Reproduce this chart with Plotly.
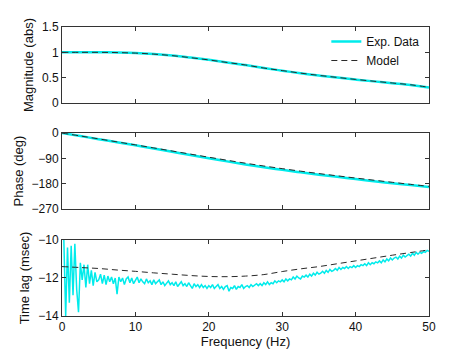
import numpy as np
import plotly.graph_objects as go

# ---------------- data ----------------
freq_coarse = [0, 2.5, 5, 7.5, 10, 12.5, 15, 17.5, 20, 22.5, 25, 27.5, 30,
               32.5, 35, 37.5, 40, 42.5, 45, 47.5, 50]

mag_model = [1.0, 1.0, 1.0, 0.995, 0.985, 0.965, 0.935, 0.895, 0.85, 0.80, 0.75,
             0.69, 0.64, 0.59, 0.545, 0.505, 0.465, 0.43, 0.395, 0.36, 0.31]
mag_exp = [1.0, 1.003, 1.001, 0.997, 0.988, 0.968, 0.938, 0.897, 0.852, 0.80, 0.748,
           0.692, 0.638, 0.588, 0.543, 0.503, 0.462, 0.427, 0.392, 0.357, 0.307]

phase_model = [0, -10.3, -20.7, -31.3, -41.9, -52.8, -63.7, -74.8, -85.8, -96.6, -107.1,
               -117.0, -126.4, -135.3, -143.9, -151.9, -159.8, -167.5, -174.9, -182.3, -189.4]
phase_exp = [0, -10.7, -21.6, -32.5, -43.6, -55.0, -66.3, -77.8, -89.4, -100.6, -111.4,
             -121.2, -130.6, -139.6, -147.8, -155.5, -163.6, -171.2, -178.2, -184.8, -191.5]

lag_model = [-11.40, -11.45, -11.5, -11.58, -11.65, -11.73, -11.8, -11.87, -11.92, -11.93,
             -11.9, -11.82, -11.66, -11.52, -11.4, -11.25, -11.1, -10.95, -10.8, -10.66, -10.52]

lag_exp = [
    -10.0, -14.0, -10.4, -13.3, -10.3, -12.9, -10.2, -12.6, -13.8, -11.2, -12.1, -11.3,
    -12.5, -11.3, -12.3, -11.6, -12.4, -11.7, -12.2, -12.1,
    -11.8, -12.3, -11.85, -12.35, -11.9, -12.2, -11.95, -12.3,
    -12.0, -12.85, -11.95, -12.2, -12.0, -12.35, -12.05, -11.95,
    -12.25, -12.0, -12.3, -12.1, -11.95, -12.25, -12.05, -12.2,
    -12.3, -12.05, -12.25, -12.15, -12.35, -12.1, -12.3, -12.2,
    -12.1, -12.35, -12.2, -12.4, -12.25, -12.15, -12.35, -12.25,
    -12.4, -12.2, -12.45, -12.3, -12.2, -12.4, -12.3, -12.45,
    -12.25, -12.4, -12.55, -12.3, -12.45, -12.35, -12.5, -12.35,
    -12.5, -12.4, -12.55, -12.4, -12.5, -12.35, -12.55, -12.45,
    -12.35, -12.55, -12.45, -12.6, -12.45, -12.4, -12.7, -12.5,
    -12.55, -12.4, -12.6, -12.45, -12.5, -12.35, -12.55, -12.45,
    -12.4, -12.5, -12.35, -12.45, -12.35, -12.3, -12.4, -12.3,
    -12.4, -12.25, -12.35, -12.2, -12.35, -12.25, -12.3, -12.15,
    -12.25, -12.15, -12.2, -12.1, -12.2, -12.05, -12.15, -12.05,
    -12.1, -11.95, -12.05, -11.9, -12.0, -12.05, -11.9, -11.95,
    -11.85, -11.95, -11.8, -11.9, -11.75, -11.85, -11.7, -11.8,
    -11.75, -11.65, -11.75, -11.6, -11.7, -11.55, -11.65, -11.6,
    -11.5, -11.6, -11.45, -11.55, -11.45, -11.5, -11.4, -11.5,
    -11.4, -11.45, -11.35, -11.45, -11.35, -11.4, -11.3, -11.35,
    -11.25, -11.35, -11.2, -11.3, -11.2, -11.25, -11.15, -11.2,
    -11.1, -11.2, -11.05, -11.15, -11.0, -11.1, -10.95, -11.05,
    -10.95, -10.9, -11.0, -10.85, -10.95, -10.8, -10.9, -10.8,
    -10.75, -10.85, -10.7, -10.8, -10.65, -10.75, -10.65, -10.7,
    -10.6, -10.65, -10.55, -10.6,
]
freq_fine = list(np.arange(1, len(lag_exp) + 1) * 0.25)

x_ticks = [0, 10, 20, 30, 40, 50]

# ---------------- styling ----------------
CYAN = "rgb(0,235,235)"
DASH = "#2a2a2a"
FONT = "Liberation Sans, Arial, sans-serif"

fig = go.Figure()

def add(x, y, xa, ya, color, width, dash, name, show):
    fig.add_trace(go.Scatter(x=x, y=y, xaxis=xa, yaxis=ya, mode="lines",
                             line=dict(color=color, width=width, dash=dash,
                                       shape="spline" if len(x) < 50 else "linear"),
                             name=name, showlegend=show))

add(freq_coarse, mag_exp, "x", "y", CYAN, 2.5, "solid", "Exp. Data", True)
add(freq_coarse, mag_model, "x", "y", DASH, 1, "6px,4px", "Model", True)
add(freq_coarse, phase_exp, "x2", "y2", CYAN, 2.5, "solid", "Exp. Data", False)
add(freq_coarse, phase_model, "x2", "y2", DASH, 1, "6px,4px", "Model", False)
add(freq_fine, lag_exp, "x3", "y3", CYAN, 1.5, "solid", "Exp. Data", False)
add(freq_coarse, lag_model, "x3", "y3", DASH, 1, "6px,4px", "Model", False)

axis_common = dict(showline=True, linecolor="#333", linewidth=1, mirror="ticks",
                   ticks="inside", ticklen=4, tickcolor="#333", showgrid=False,
                   zeroline=False, automargin=False, tickfont=dict(size=12, color="#111"))

doms = [[0.737, 1.0], [0.370, 0.633], [0.0, 0.263]]

fig.update_layout(
    width=466, height=347,
    margin=dict(l=54, r=45, t=19, b=39),
    paper_bgcolor="white", plot_bgcolor="white",
    font=dict(family=FONT, size=12, color="#111"),
    xaxis=dict(domain=[0, 1], anchor="y", range=[0, 50], tickvals=x_ticks, showticklabels=False, **axis_common),
    xaxis2=dict(domain=[0, 1], anchor="y2", range=[0, 50], tickvals=x_ticks, showticklabels=False, **axis_common),
    xaxis3=dict(domain=[0, 1], anchor="y3", range=[0, 50], tickvals=x_ticks,
                title=dict(text="Frequency (Hz)", standoff=1, font=dict(size=13)), **axis_common),
    yaxis=dict(domain=doms[0], anchor="x", range=[0, 1.5], tickvals=[0, 0.5, 1, 1.5],
               ticktext=["0", "0.5", "1", "1.5"],
               title=dict(text="Magnitude (abs)", standoff=5, font=dict(size=13)), **axis_common),
    yaxis2=dict(domain=doms[1], anchor="x2", range=[-270, 0], tickvals=[-270, -180, -90, 0],
                title=dict(text="Phase (deg)", standoff=5, font=dict(size=13)), **axis_common),
    yaxis3=dict(domain=doms[2], anchor="x3", range=[-14, -10], tickvals=[-14, -12, -10],
                title=dict(text="Time lag (msec)", standoff=5, font=dict(size=13)), **axis_common),
    legend=dict(x=0.99, y=1.0, xanchor="right", yanchor="top", bgcolor="rgba(0,0,0,0)",
                font=dict(size=12), tracegroupgap=0, itemwidth=30),
)

fig.write_html("out.html")
